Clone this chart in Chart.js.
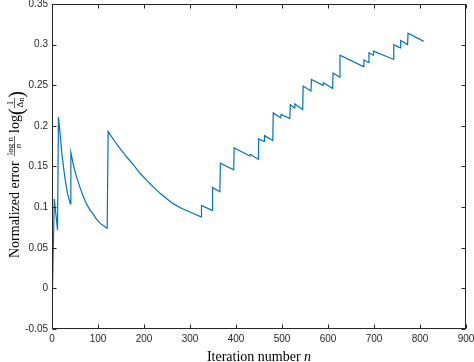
<!DOCTYPE html>
<html>
<head>
<meta charset="utf-8">
<script src="https://cdn.jsdelivr.net/npm/chart.js@4.4.1/dist/chart.umd.min.js"></script>
<style>
  html, body { margin: 0; padding: 0; background: #fff; }
  #wrap { width: 474px; height: 362px; position: relative; }
</style>
</head>
<body>
<div id="wrap"><canvas id="errChart"></canvas></div>
<script>
// iteration number n
const xValues = [
  1, 5, 12, 14, 18, 22, 28, 34, 40,
  41, 48, 54, 61, 68, 75, 83, 90, 97, 105, 112, 120,
  122, 135, 148, 162, 177, 191, 206, 220, 235, 250, 264, 280, 300, 312, 324,
  325, 348, 349, 365, 366, 395, 396, 409, 430, 431, 448,
  449, 461, 462, 480, 481, 497, 498, 517, 518, 527, 528, 545,
  546, 563, 564, 589, 590, 610, 611, 625, 626, 677, 678, 688,
  689, 698, 699, 742, 743, 757, 758, 773, 774, 808
];
// normalized error
const yValues = [
  -0.004, 0.110, 0.072, 0.211, 0.188, 0.163, 0.136, 0.116, 0.104,
  0.167, 0.148, 0.136, 0.124, 0.113, 0.104, 0.096, 0.091, 0.085, 0.080, 0.077, 0.074,
  0.193, 0.182, 0.172, 0.162, 0.152, 0.142, 0.133, 0.125, 0.117, 0.110, 0.104, 0.099, 0.094, 0.091, 0.088,
  0.102, 0.096, 0.124, 0.119, 0.154, 0.146, 0.173, 0.169, 0.163, 0.165, 0.159,
  0.184, 0.181, 0.188, 0.182, 0.216, 0.210, 0.214, 0.209, 0.226, 0.222, 0.227, 0.220,
  0.249, 0.243, 0.257, 0.250, 0.253, 0.246, 0.265, 0.260, 0.287, 0.273, 0.281, 0.278,
  0.290, 0.287, 0.292, 0.282, 0.300, 0.296, 0.305, 0.300, 0.314, 0.304
];

const xTickValues = [0, 100, 200, 300, 400, 500, 600, 700, 800, 900];
const yTickValues = [-0.05, 0, 0.05, 0.1, 0.15, 0.2, 0.25, 0.3, 0.35];
const yTickLabels = ['-0.05', '0', '0.05', '0.1', '0.15', '0.2', '0.25', '0.3', '0.35'];

const AXIS_COLOR = '#262626';
const SERIF = '"Liberation Serif", "Times New Roman", serif';

// matlab style box with inward ticks on all four sides
const boxPlugin = {
  id: 'matlabBox',
  afterDraw(chart) {
    const ctx = chart.ctx;
    const a = chart.chartArea;
    const xs = chart.scales.x;
    const ys = chart.scales.y;
    const L = Math.round(a.left) + 0.5, R = Math.round(a.right) - 0.5;
    const T = Math.round(a.top) + 0.5, B = Math.round(a.bottom) - 0.5;
    ctx.save();
    ctx.strokeStyle = AXIS_COLOR;
    ctx.lineWidth = 1;
    ctx.strokeRect(L, T, R - L, B - T);
    ctx.beginPath();
    xTickValues.forEach(v => {
      const px = Math.round(xs.getPixelForValue(v)) + 0.5;
      ctx.moveTo(px, B); ctx.lineTo(px, B - 4);
      ctx.moveTo(px, T); ctx.lineTo(px, T + 4);
    });
    yTickValues.forEach(v => {
      const py = Math.round(ys.getPixelForValue(v)) + 0.5;
      ctx.moveTo(L, py); ctx.lineTo(L + 4, py);
      ctx.moveTo(R, py); ctx.lineTo(R - 4, py);
    });
    ctx.stroke();
    ctx.restore();
  }
};

// axis titles (the y one has fractions, so it is laid out by hand)
const titlePlugin = {
  id: 'axisTitles',
  afterDraw(chart) {
    const ctx = chart.ctx;
    const a = chart.chartArea;
    ctx.save();
    ctx.fillStyle = '#000';
    ctx.textBaseline = 'alphabetic';

    // x title
    const big = '14px ' + SERIF;
    const bigIt = 'italic 14px ' + SERIF;
    ctx.font = big;
    const w1 = ctx.measureText('Iteration number ').width;
    ctx.font = bigIt;
    const w2 = ctx.measureText('n').width;
    let x0 = (a.left + a.right) / 2 - (w1 + w2) / 2;
    ctx.font = big;
    ctx.fillText('Iteration number ', x0, 361);
    ctx.font = bigIt;
    ctx.fillText('n', x0 + w1, 361);

    // y title, rotated
    const small = '9px ' + SERIF;
    const smallIt = 'italic 9px ' + SERIF;
    const tinyIt = 'italic 6px ' + SERIF;
    const paren = '20px ' + SERIF;
    const meas = (f, t) => { ctx.font = f; return ctx.measureText(t).width; };

    const wMain = meas(big, 'Normalized error');
    const wNum1 = meas(small, 'log ') + meas(smallIt, 'n');
    const wDen1 = meas(smallIt, 'n');
    const wF1 = Math.max(wNum1, wDen1) + 2;
    const wLog = meas(big, 'log');
    const wPar = meas(paren, '(');
    const wNum2 = meas(small, '1');
    const wDen2 = meas(small, 'Δ') + meas(tinyIt, 'n');
    const wF2 = Math.max(wNum2, wDen2) + 2;
    const total = wMain + 5 + wF1 + 3 + wLog + wPar + wF2 + wPar;

    const cy = (a.top + a.bottom) / 2 + 8;
    ctx.translate(19, cy);
    ctx.rotate(-Math.PI / 2);
    let u = -total / 2;
    const bar = -4.5;

    ctx.font = big;
    ctx.fillText('Normalized error', u, 0);
    u += wMain + 5;

    // log n / n
    let nx = u + (wF1 - wNum1) / 2;
    ctx.font = small; ctx.fillText('log ', nx, bar - 2);
    ctx.font = smallIt; ctx.fillText('n', nx + meas(small, 'log '), bar - 2);
    ctx.font = smallIt; ctx.fillText('n', u + (wF1 - wDen1) / 2, bar + 6.5);
    ctx.fillRect(u, bar - 0.3, wF1, 0.6);
    u += wF1 + 3;

    ctx.font = big;
    ctx.fillText('log', u, 0);
    u += wLog;
    ctx.font = paren;
    ctx.fillText('(', u, 4);
    u += wPar;

    // 1 / Δn
    ctx.font = small; ctx.fillText('1', u + (wF2 - wNum2) / 2, bar - 2);
    let dx = u + (wF2 - wDen2) / 2;
    ctx.font = small; ctx.fillText('Δ', dx, bar + 8);
    ctx.font = tinyIt; ctx.fillText('n', dx + meas(small, 'Δ'), bar + 9.5);
    ctx.fillRect(u, bar - 0.3, wF2, 0.6);
    u += wF2;

    ctx.font = paren;
    ctx.fillText(')', u, 4);
    ctx.restore();
  }
};

const tickFont = { family: '"Liberation Sans", Arial, Helvetica, sans-serif', size: 10 };

const ctx = document.getElementById('errChart');
new Chart(ctx, {
  type: 'line',
  data: {
    datasets: [{
      data: xValues.map((x, i) => ({ x: x, y: yValues[i] })),
      borderColor: '#0072BD',
      borderWidth: 1.2,
      pointRadius: 0,
      tension: 0,
      fill: false
    }]
  },
  options: {
    responsive: true,
    maintainAspectRatio: false,
    animation: false,
    layout: { padding: { top: 4, right: 8, left: 0, bottom: 0 } },
    plugins: {
      legend: { display: false },
      tooltip: { enabled: false }
    },
    scales: {
      x: {
        type: 'linear',
        min: 0,
        max: 900,
        grid: { display: false, drawTicks: false },
        border: { display: false },
        ticks: { font: tickFont, color: AXIS_COLOR, padding: 4, maxRotation: 0, autoSkip: false },
        afterBuildTicks: scale => { scale.ticks = xTickValues.map(v => ({ value: v })); },
        afterFit: scale => { scale.height = 33; scale.paddingLeft = 0; scale.paddingRight = 0; }
      },
      y: {
        type: 'linear',
        min: -0.05,
        max: 0.35,
        grid: { display: false, drawTicks: false },
        border: { display: false },
        ticks: {
          font: tickFont, color: AXIS_COLOR, padding: 4, autoSkip: false,
          callback: (v, i) => yTickLabels[i]
        },
        afterBuildTicks: scale => { scale.ticks = yTickValues.map(v => ({ value: v })); },
        afterFit: scale => { scale.width = 52; scale.paddingTop = 0; scale.paddingBottom = 0; }
      }
    }
  },
  plugins: [boxPlugin, titlePlugin]
});
</script>
</body>
</html>
